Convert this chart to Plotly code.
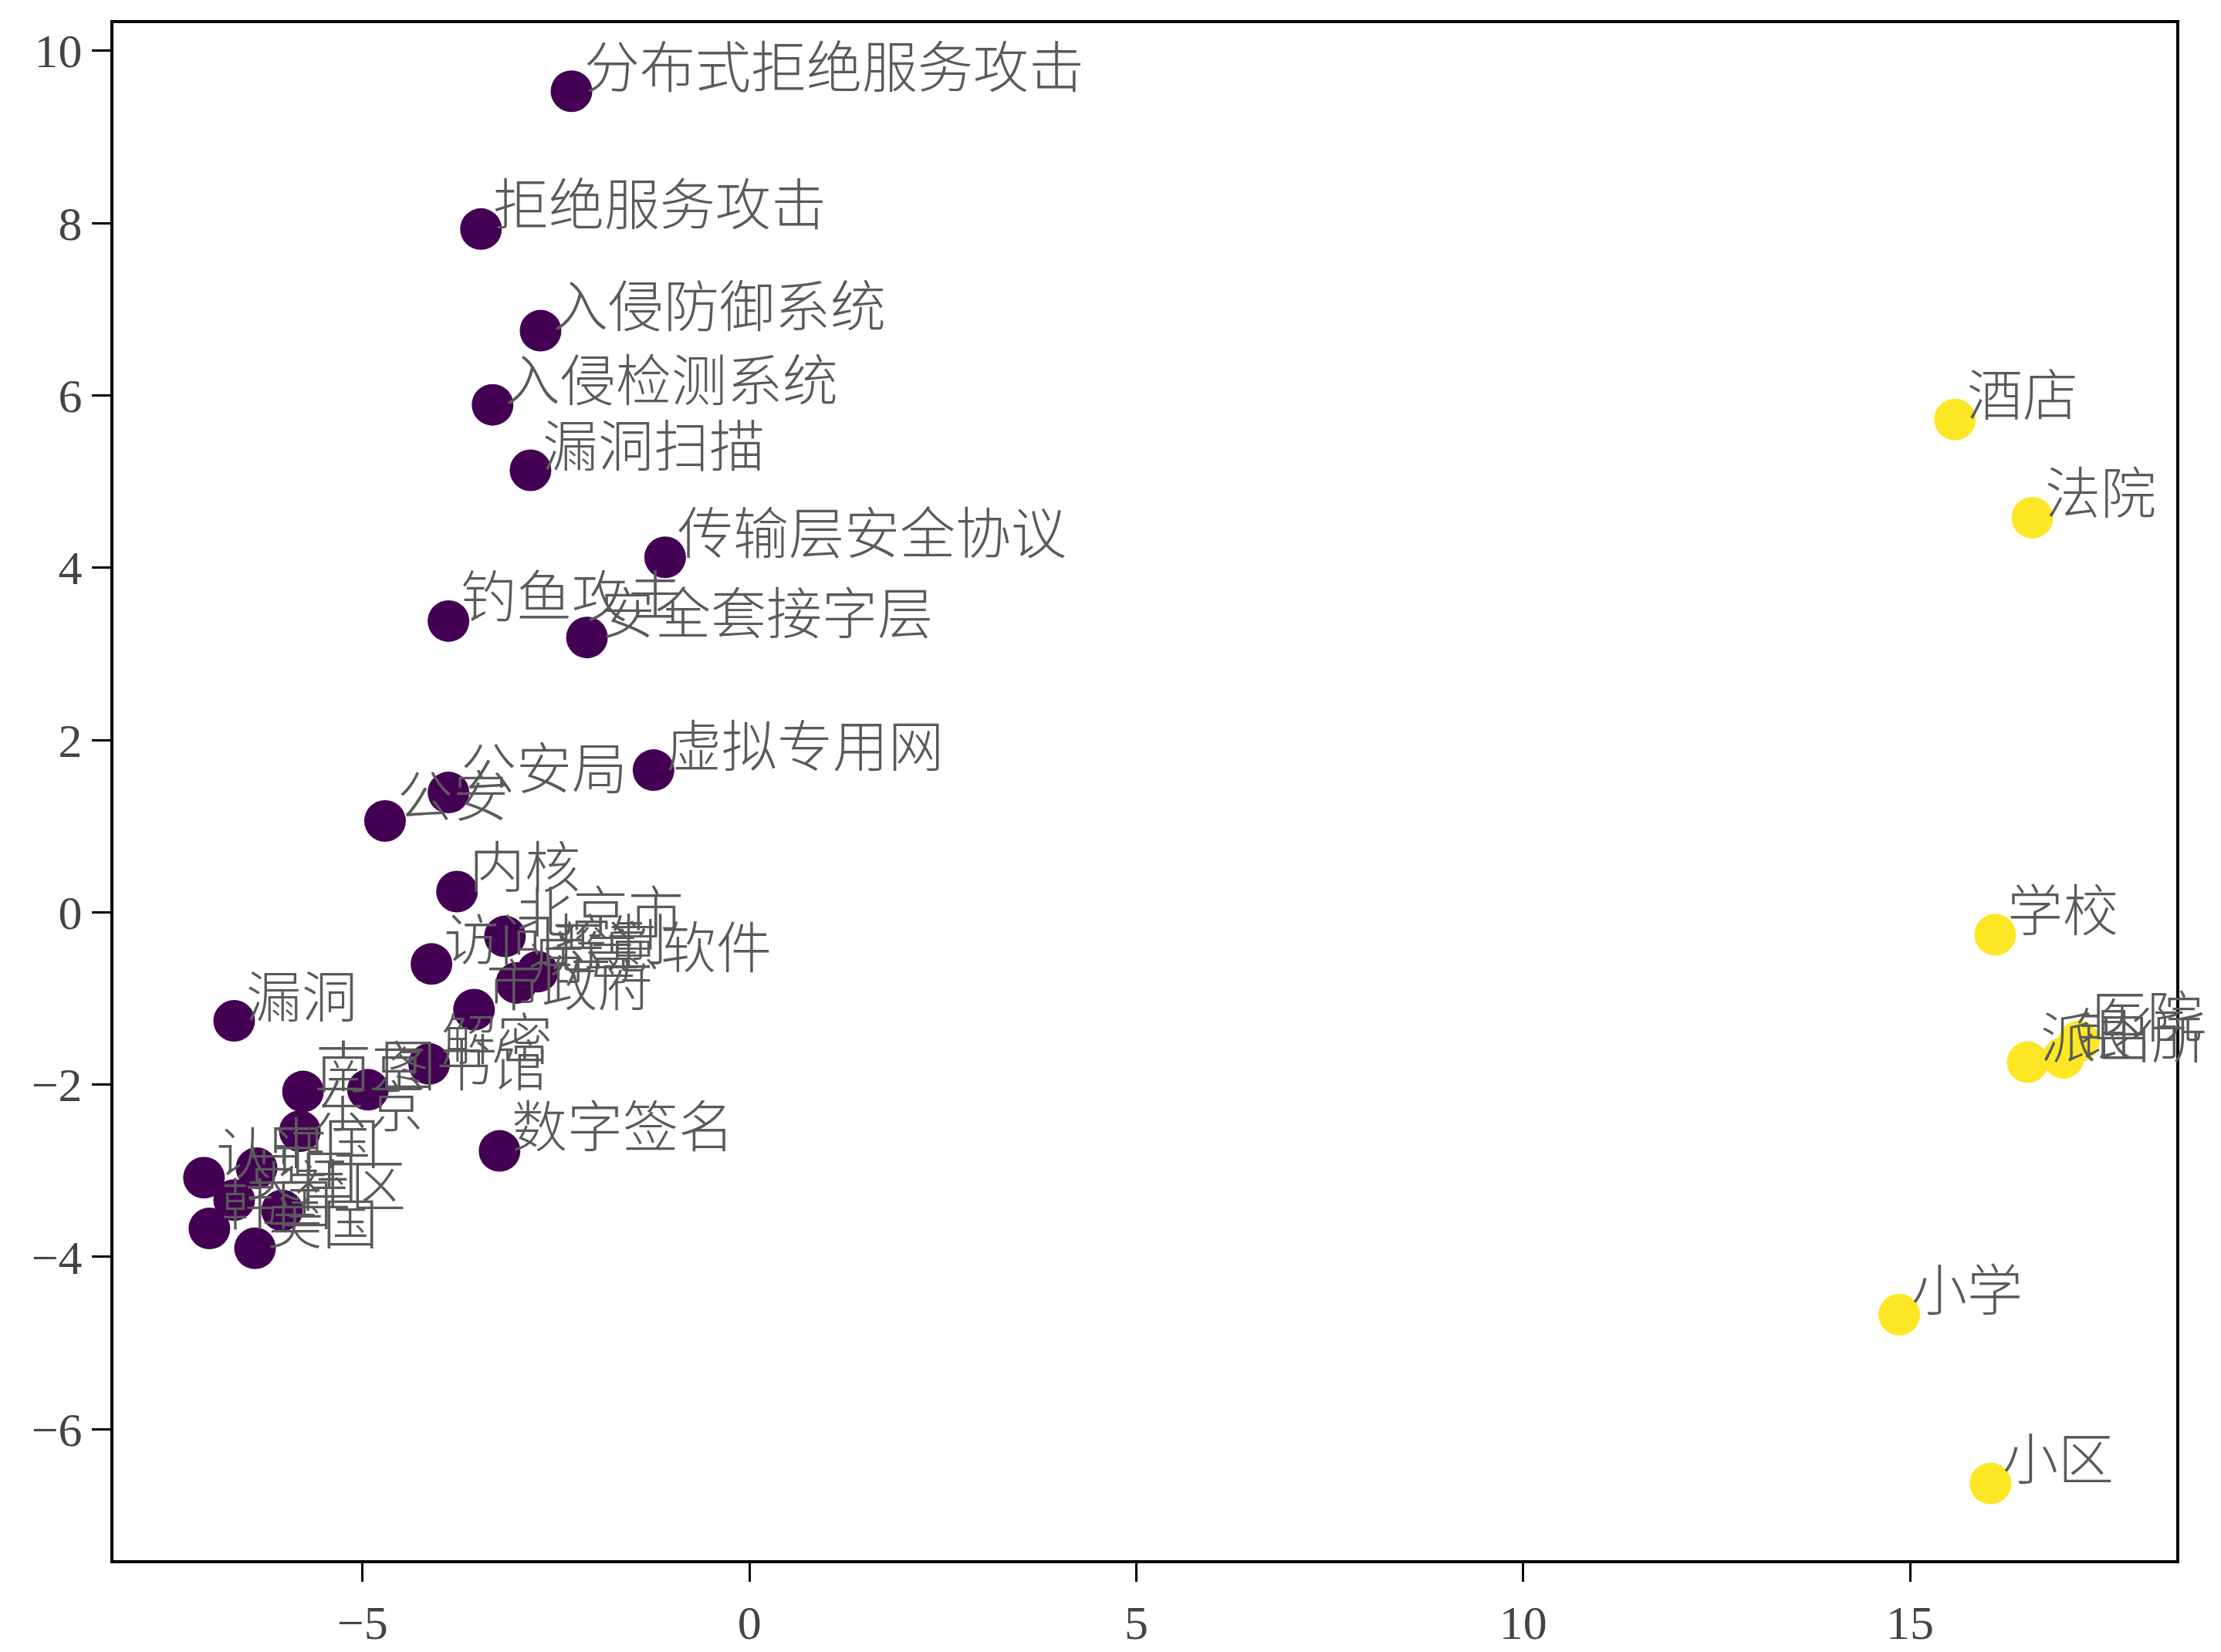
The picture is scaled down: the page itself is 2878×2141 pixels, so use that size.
import plotly.graph_objs as go

# Palabras y coordenadas (proyeccion 2D)
palabras = ['分布式拒绝服务攻击', '拒绝服务攻击', '入侵防御系统', '入侵检测系统', '漏洞扫描',
            '传输层安全协议', '钓鱼攻击', '安全套接字层', '虚拟专用网', '公安局', '公安',
            '内核', '北京市', '访问控制', '病毒', '恶意软件', '市政府', '解密', '图书馆',
            '南京', '东京', '数字签名', '漏洞', '认证', '中国', '英国', '社区', '韩国', '美国',
            '酒店', '法院', '学校', '派出所', '银行', '医院', '小学', '小区']
coord_x = [-2.30, -3.47, -2.70, -3.32, -2.83,
           -1.09, -3.89, -2.10, -1.24, -3.89, -4.71,
           -3.78, -3.16, -4.11, -3.01, -2.74, -3.56, -4.14, -4.93,
           -5.77, -5.81, -3.23, -6.66, -7.05, -6.37, -6.66, -6.04, -6.98, -6.39,
           15.58, 16.58, 16.10, 16.52, 16.98, 17.18, 14.86, 16.04]
coord_y = [9.53, 7.93, 6.75, 5.89, 5.13,
           4.12, 3.38, 3.19, 1.65, 1.39, 1.06,
           0.24, -0.28, -0.60, -0.82, -0.69, -1.13, -1.76, -2.06,
           -2.08, -2.54, -2.77, -1.26, -3.08, -2.97, -3.34, -3.46, -3.67, -3.90,
           5.72, 4.58, -0.26, -1.74, -1.69, -1.50, -4.67, -6.63]
grupo = [0] * 29 + [1] * 8

ticks_x = [-5, 0, 5, 10, 15]
ticks_y = [10, 8, 6, 4, 2, 0, -2, -4, -6]

# Grafico de dispersion, color por cluster
grafico = go.Scatter(x=coord_x, y=coord_y, mode='markers',
                     marker=dict(size=54, color=grupo,
                                 colorscale=[[0, '#440154'], [1, '#fde725']],
                                 line=dict(width=0)),
                     hoverinfo='text', hovertext=palabras)

eje = dict(showline=True, linecolor='black', linewidth=4, mirror=True,
           showgrid=False, zeroline=False, ticks='outside', ticklen=24,
           tickwidth=3, tickcolor='black',
           tickfont=dict(family='Liberation Serif', size=62, color='#444444'))

layout = go.Layout(width=2878, height=2141,
                   margin=dict(l=139, r=66, t=22, b=122),
                   plot_bgcolor='white', paper_bgcolor='white',
                   showlegend=False,
                   xaxis=dict(eje, range=[-8.22, 18.44], tickvals=ticks_x),
                   yaxis=dict(eje, range=[-7.52, 10.32], tickvals=ticks_y))

figura = go.Figure(data=[grafico], layout=layout)

# Etiquetas de cada punto
for palabra, x, y in zip(palabras, coord_x, coord_y):
    figura.add_annotation(x=x, y=y, text=palabra, showarrow=False,
                          xanchor='left', yanchor='middle', xshift=14, yshift=37,
                          font=dict(family='Noto Sans CJK SC', size=72,
                                    color='#5a5a5a', weight=300))

figura.write_html('out.html')
